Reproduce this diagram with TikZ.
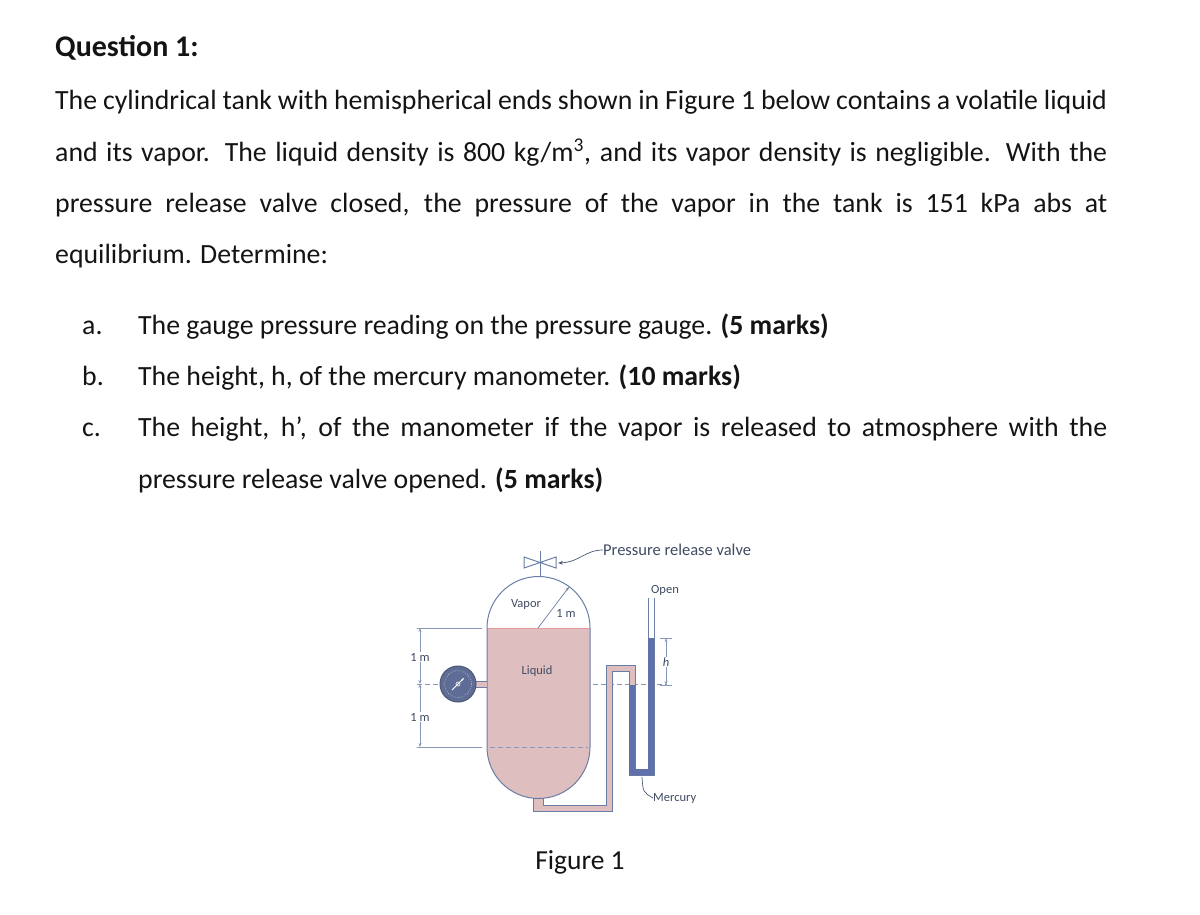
\documentclass[tikz,border=0pt]{standalone}
\usepackage{fontspec}
\setmainfont{Carlito}
\usetikzlibrary{arrows.meta}
\definecolor{liq}{RGB}{222,190,190}
\definecolor{edge}{RGB}{105,125,165}
\definecolor{merc}{RGB}{95,112,170}
\definecolor{gaugec}{RGB}{95,108,150}
\definecolor{txt}{RGB}{20,20,20}
\tikzset{
 body/.style={anchor=base west,inner sep=0,font=\fontsize{27.8}{32}\selectfont,text=txt},
 fig/.style={inner sep=0,font=\fontsize{12.5}{14}\selectfont,text=edge!60!black},
 outl/.style={draw=edge,line width=1pt},
 dimln/.style={draw=edge!80,line width=0.7pt},
}
\newcommand{\jline}[1]{\makebox[1052pt][s]{#1}}
\begin{document}
\begin{tikzpicture}[x=1pt,y=-1pt]
\useasboundingbox (0,0) rectangle (1200,915);
\node[body,font=\fontsize{30}{34}\selectfont\bfseries] (title) at (55,57) {Question 1:};
\node[body] (l1) at (55,110) {\jline{The cylindrical tank with hemispherical ends shown in Figure 1 below contains a volatile liquid}};
\node[body] (l2) at (55,161) {\jline{and its vapor. The liquid density is 800 kg/m\textsuperscript{3}, and its vapor density is negligible. With the}};
\node[body] (l3) at (55,212) {\jline{pressure release valve closed, the pressure of the vapor in the tank is 151 kPa abs at}};
\node[body] (l4) at (55,263) {equilibrium. Determine:};
\node[body] (a) at (82,334) {a.};
\node[body] (at) at (138,334) {The gauge pressure reading on the pressure gauge. \textbf{(5 marks)}};
\node[body] (b) at (82,385) {b.};
\node[body] (bt) at (138,385) {The height, h, of the mercury manometer. \textbf{(10 marks)}};
\node[body] (c) at (82,436) {c.};
\node[body] (ct) at (138,436) {\makebox[969pt][s]{The height, h’, of the manometer if the vapor is released to atmosphere with the}};
\node[body] (ct2) at (138,488) {pressure release valve opened. \textbf{(5 marks)}};
% dashed reference lines
\draw[dimln,dashed,dash pattern=on 5pt off 3pt] (417,684) -- (667,684);
% bottom pipe
\fill[liq] (533,795) -- (533,811) -- (612,811) -- (612,671) -- (629,671) -- (629,685) -- (635,685) -- (635,665) -- (606,665) -- (606,805) -- (543,805) -- (543,795) -- cycle;
\draw[outl] (533,795) -- (533,811) -- (612,811) -- (612,671) -- (629,671) -- (629,775) -- (654,775) -- (654,598);
\draw[outl] (543,795) -- (543,805) -- (606,805) -- (606,665) -- (635,665) -- (635,769) -- (648,769) -- (648,598);
% mercury
\fill[merc] (629,685) -- (635,685) -- (635,769) -- (648,769) -- (648,638) -- (654,638) -- (654,775) -- (629,775) -- cycle;
% tank
\fill[liq] (487,628) -- (487,747) arc[start angle=180,end angle=0,radius=51.5] -- (590,628) -- cycle;
\draw[outl] (487,628) -- (487,747) arc[start angle=180,end angle=0,radius=51.5] -- (590,628) arc[start angle=0,end angle=-180,radius=51.5];
\draw[line width=1pt,draw=liq!80!red] (487.5,628) -- (589.5,628);
\draw[dimln,dashed,dash pattern=on 5pt off 3pt] (490,747) -- (588,747);
% gauge
\fill[liq] (474,681) rectangle (487,687);
\draw[outl] (474,681) -- (487,681) (474,687) -- (487,687);
\node[circle,fill=gaugec,draw=edge!70!black,line width=1pt,minimum size=36pt,inner sep=0] (gauge) at (458,684) {};
\node[circle,draw=white!70!gaugec,line width=0.6pt,minimum size=27pt,inner sep=0,dashed,dash pattern=on 0.6pt off 1.5pt] at (gauge) {};
\draw[white,line width=0.8pt,-{Stealth[length=3pt]}] (452,690) -- (464,678);
\draw[white,line width=0.6pt] (gauge) circle (2pt);
% dimensions
\coordinate (dt) at (420,628); \coordinate (dm) at (420,684); \coordinate (db) at (420,747);
\draw[dimln] (417,628) -- (482,628) (417,747) -- (482,747);
\draw[dimln,{Stealth[length=4pt]}-{Stealth[length=4pt]}] (dt) -- (dm);
\draw[dimln,{Stealth[length=4pt]}-{Stealth[length=4pt]}] (dm) -- (db);
\node[fig,fill=white,inner sep=1pt] (m1) at (420,657) {1 m};
\node[fig,fill=white,inner sep=1pt] (m2) at (420,717) {1 m};
% radius
\coordinate (rc) at (538,628); \coordinate (rt) at (569,587);
\draw[dimln,draw=edge,-{Stealth[length=4pt]}] (rc) -- (rt);
\node[fig] (r1) at (566,613) {1 m};
\node[fig] (vap) at (526,604) {Vapor};
\node[fig] (liqd) at (537,671) {Liquid};
% valve
\draw[outl] (540,551) -- (540,577);
\draw[outl,fill=white] (524,557) -- (556,568) -- (556,557) -- (524,568) -- cycle;
\node[fig,anchor=west,font=\fontsize{16.5}{19}\selectfont] (prv) at (603,550) {Pressure release valve};
\draw[dimln,draw=edge!70!black,-{Stealth[length=5pt]}] (prv.west) .. controls (585,550) and (580,562) .. (558,563);
% manometer labels
\node[fig] (open) at (665,590) {Open};
\coordinate (ht) at (666,638); \coordinate (hb) at (666,685);
\draw[dimln] (660,638) -- (672,638) (660,685) -- (672,685);
\draw[dimln,{Stealth[length=4pt]}-{Stealth[length=4pt]}] (ht) -- (hb);
\node[fig,fill=white,inner sep=1pt,font=\fontsize{12.5}{14}\selectfont\itshape] (hl) at (666,662) {h};
\node[fig,anchor=west] (mer) at (653,798) {Mercury};
\draw[dimln,draw=edge!70!black] (642,777) .. controls (643,792) .. (mer.west);
\node[inner sep=0,font=\fontsize{27.5}{31}\selectfont,text=txt] (figl) at (580,862) {Figure 1};
\end{tikzpicture}
\end{document}
